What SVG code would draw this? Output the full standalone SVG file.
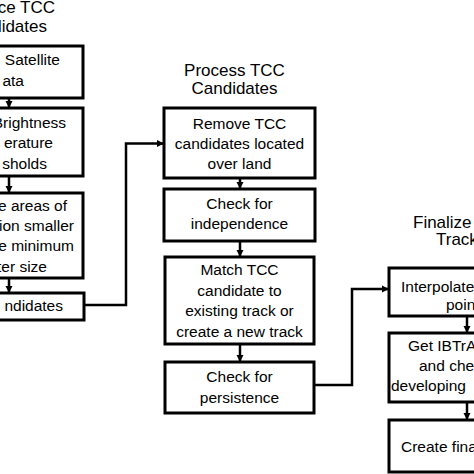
<svg xmlns="http://www.w3.org/2000/svg" width="474" height="474" viewBox="0 0 474 474">
<defs>
<style>
.box{fill:#fff;stroke:#000;stroke-width:3}
.t{font-family:"Liberation Sans",Arial,sans-serif;font-size:15.5px;fill:#000}
.h{font-family:"Liberation Sans",Arial,sans-serif;font-size:17px;fill:#000}
.c{text-anchor:middle}
.e{text-anchor:end}
.ln{fill:none;stroke:#000;stroke-width:2.5}
</style>
<marker id="ah" viewBox="0 0 10 10" refX="10" refY="5" markerWidth="3" markerHeight="3" orient="auto" markerUnits="strokeWidth">
<path d="M0,0 L10,5 L0,10 z" fill="#000"/>
</marker>
</defs>
<rect width="474" height="474" fill="#fff"/>

<g id="titles">
<text class="h e" x="55" y="13">ce TCC</text>
<text class="h e" x="47" y="32">ndidates</text>
<text class="h c" x="234.5" y="76">Process TCC</text>
<text class="h c" x="234.5" y="94">Candidates</text>
<text class="h" x="413" y="228">Finalize</text>
<text class="h" x="436" y="245">Track</text>
</g>

<g id="connectors">
<line class="ln" x1="9" y1="98" x2="9" y2="108" marker-end="url(#ah)"/>
<line class="ln" x1="9" y1="176" x2="9" y2="193" marker-end="url(#ah)"/>
<line class="ln" x1="9" y1="278" x2="9" y2="293" marker-end="url(#ah)"/>
<polyline class="ln" points="84,305 126,305 126,143.5 164,143.5" marker-end="url(#ah)"/>
<line class="ln" x1="240" y1="178" x2="240" y2="189" marker-end="url(#ah)"/>
<line class="ln" x1="240" y1="241" x2="240" y2="257" marker-end="url(#ah)"/>
<line class="ln" x1="240" y1="344" x2="240" y2="362" marker-end="url(#ah)"/>
<polyline class="ln" points="314,385 352,385 352,289 389,289" marker-end="url(#ah)"/>
<line class="ln" x1="467" y1="316" x2="467" y2="333" marker-end="url(#ah)"/>
<line class="ln" x1="467" y1="402" x2="467" y2="420" marker-end="url(#ah)"/>
</g>

<g id="read-data">
<rect class="box" x="-20" y="46" width="103" height="52"/>
<text class="t e" x="60" y="65">Satellite</text>
<text class="t e" x="24" y="86">ata</text>
</g>

<g id="thresholds">
<rect class="box" x="-20" y="108" width="103" height="68"/>
<text class="t e" x="66" y="128">Brightness</text>
<text class="t e" x="53" y="148">erature</text>
<text class="t e" x="47" y="169">sholds</text>
</g>

<g id="remove-areas">
<rect class="box" x="-20" y="193" width="103" height="85"/>
<text class="t e" x="67" y="211">e areas of</text>
<text class="t e" x="74" y="231">ion smaller</text>
<text class="t e" x="74" y="251">e minimum</text>
<text class="t e" x="47" y="272">ter size</text>
</g>

<g id="candidates">
<rect class="box" x="-20" y="293" width="104" height="27"/>
<text class="t e" x="63" y="311">ndidates</text>
</g>

<g id="remove-land">
<rect class="box" x="164" y="108" width="151" height="70"/>
<text class="t c" x="239.5" y="129">Remove TCC</text>
<text class="t c" x="239.5" y="149">candidates located</text>
<text class="t c" x="239.5" y="169">over land</text>
</g>

<g id="independence">
<rect class="box" x="164" y="189" width="151" height="52"/>
<text class="t c" x="239.5" y="209">Check for</text>
<text class="t c" x="239.5" y="229">independence</text>
</g>

<g id="match">
<rect class="box" x="165" y="257" width="149" height="87"/>
<text class="t c" x="239.5" y="275">Match TCC</text>
<text class="t c" x="239.5" y="296">candidate to</text>
<text class="t c" x="239.5" y="316">existing track or</text>
<text class="t c" x="239.5" y="337">create a new track</text>
</g>

<g id="persistence">
<rect class="box" x="165" y="362" width="149" height="51"/>
<text class="t c" x="239.5" y="382">Check for</text>
<text class="t c" x="239.5" y="403">persistence</text>
</g>

<g id="interpolate">
<rect class="box" x="389" y="268" width="120" height="48"/>
<text class="t" x="401" y="292">Interpolate</text>
<text class="t" x="446" y="310">points</text>
</g>

<g id="ibtracs">
<rect class="box" x="389" y="333" width="120" height="69"/>
<text class="t" x="408" y="351">Get IBTrA</text>
<text class="t" x="419" y="371">and che</text>
<text class="t" x="391" y="391">developing</text>
</g>

<g id="create-final">
<rect class="box" x="389" y="420" width="120" height="52"/>
<text class="t" x="401" y="452">Create fina</text>
</g>
</svg>
